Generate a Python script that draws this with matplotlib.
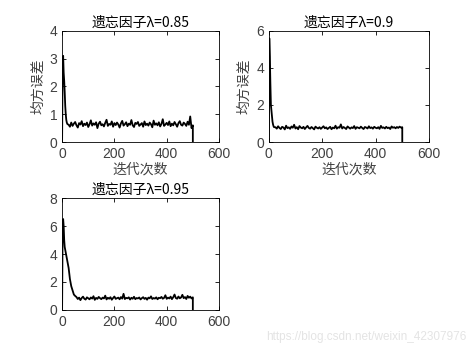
import matplotlib
matplotlib.use("Agg")
import matplotlib.pyplot as plt

plt.rcParams.update({
    "font.family": ["Liberation Sans", "Noto Sans CJK SC", "DejaVu Sans"],
    "font.size": 10,
    "axes.linewidth": 0.6,
    "xtick.direction": "in",
    "ytick.direction": "in",
    "xtick.top": True,
    "ytick.right": True,
    "xtick.major.size": 3,
    "ytick.major.size": 3,
    "xtick.major.width": 0.6,
    "ytick.major.width": 0.6,
    "xtick.labelcolor": "#404040",
    "ytick.labelcolor": "#404040",
})

CJK = ["Noto Sans CJK SC", "DejaVu Sans"]

# iteration index (dense at the start, then every 5, final drop at 500)
iters = list(range(0, 21, 2)) + list(range(25, 501, 5)) + [500]

mse_085 = [0, 2.6, 3.1, 2.5, 2.2, 1.8, 1.3, 1.0, 0.8, 0.7, 0.65,
           0.62, 0.55, 0.70, 0.58, 0.66, 0.72, 0.60, 0.52, 0.68, 0.63,
           0.75, 0.57, 0.66, 0.61, 0.70, 0.54, 0.64, 0.78, 0.59, 0.67,
           0.62, 0.71, 0.50, 0.66, 0.73, 0.60, 0.64, 0.56, 0.69, 0.80,
           0.58, 0.65, 0.62, 0.74, 0.55, 0.68, 0.61, 0.70, 0.63, 0.52,
           0.67, 0.76, 0.59, 0.64, 0.71, 0.57, 0.66, 0.62, 0.79, 0.60,
           0.54, 0.69, 0.65, 0.72, 0.58, 0.63, 0.68, 0.55, 0.74, 0.61,
           0.66, 0.59, 0.70, 0.64, 0.53, 0.77, 0.62, 0.67, 0.60, 0.71,
           0.56, 0.65, 0.82, 0.58, 0.63, 0.69, 0.61, 0.74, 0.57, 0.66,
           0.60, 0.72, 0.64, 0.55, 0.68, 0.75, 0.62, 0.59, 0.70, 0.65,
           0.58, 0.73, 0.62, 0.92, 0.50, 0.60,
           0]

mse_09 = [0, 5.6, 4.6, 3.2, 2.0, 1.7, 1.4, 1.1, 0.95, 0.85, 0.8,
          0.80, 0.72, 0.85, 0.76, 0.70, 0.82, 0.78, 0.68, 0.88, 0.75,
          0.79, 0.71, 0.84, 0.77, 0.93, 0.73, 0.80, 0.69, 0.86, 0.78,
          0.74, 0.82, 0.70, 0.79, 0.87, 0.76, 0.72, 0.81, 0.75, 0.68,
          0.83, 0.77, 0.73, 0.80, 0.71, 0.78, 0.85, 0.74, 0.79, 0.70,
          0.76, 0.82, 0.69, 0.78, 0.74, 0.88, 0.72, 0.80, 0.77, 0.95,
          0.73, 0.81, 0.76, 0.70, 0.84, 0.78, 0.72, 0.79, 0.75, 0.86,
          0.71, 0.80, 0.77, 0.74, 0.83, 0.76, 0.70, 0.81, 0.78, 0.73,
          0.85, 0.75, 0.79, 0.72, 0.82, 0.77, 0.74, 0.80, 0.71, 0.87,
          0.76, 0.79, 0.73, 0.82, 0.75, 0.78, 0.70, 0.84, 0.77, 0.80,
          0.74, 0.81, 0.76, 0.83, 0.78, 0.80,
          0]

mse_095 = [0, 5.8, 6.5, 6.0, 5.0, 4.5, 4.3, 4.1, 3.9, 3.7, 3.5,
           3.0, 2.2, 1.7, 1.4, 1.1, 1.0,
           0.92, 0.78, 0.88, 0.70, 0.85, 0.95, 0.80, 0.74, 0.90, 0.83,
           0.76, 0.89, 0.81, 0.98, 0.72, 0.86, 0.79, 0.93, 0.84, 0.77,
           0.88, 0.82, 1.02, 0.75, 0.87, 0.80, 0.91, 0.73, 0.85, 0.96,
           0.79, 0.84, 0.88, 0.76, 0.92, 0.81, 1.15, 0.78, 0.86, 0.83,
           0.90, 0.74, 0.87, 0.80, 0.94, 0.77, 0.85, 0.82, 0.89, 0.75,
           0.84, 0.91, 0.79, 0.86, 0.73, 0.88, 0.83, 0.97, 0.78, 0.85,
           0.81, 0.90, 0.76, 0.87, 0.84, 0.93, 0.80, 0.86, 1.05, 0.79,
           0.88, 0.82, 0.95, 0.77, 0.91, 1.10, 0.85, 0.80, 0.96, 0.83,
           0.89, 1.08, 0.84, 0.92, 0.78, 1.00, 0.87, 0.95, 0.82, 0.90,
           0]

panels = [
    ("遗忘因子λ=0.85", mse_085, [0, 1, 2, 3, 4], True),
    ("遗忘因子λ=0.9", mse_09, [0, 2, 4, 6], True),
    ("遗忘因子λ=0.95", mse_095, [0, 2, 4, 6, 8], False),
]
rects = [
    [0.131, 0.600, 0.331, 0.313],
    [0.567, 0.600, 0.338, 0.313],
    [0.131, 0.127, 0.331, 0.315],
]

fig = plt.figure(figsize=(4.74, 3.55), dpi=100)

for (title, mse, yticks, labels), rect in zip(panels, rects):
    ax = fig.add_axes(rect)
    ax.plot(iters, mse, color="black", lw=1.3)
    ax.set_xlim(0, 600)
    ax.set_ylim(yticks[0], yticks[-1])
    ax.set_xticks([0, 200, 400, 600])
    ax.set_yticks(yticks)
    ax.set_title(title, family=CJK, fontsize=10, pad=3)
    if labels:
        ax.set_xlabel("迭代次数", family=CJK, fontsize=10, color="#404040", labelpad=1)
        ax.set_ylabel("均方误差", family=CJK, fontsize=10, color="#404040", labelpad=3)

fig.text(0.985, 0.035, "https://blog.csdn.net/weixin_42307976", ha="right",
         va="bottom", fontsize=8.5, color="#e4e4e4")

fig.savefig("out.png", dpi=100)
